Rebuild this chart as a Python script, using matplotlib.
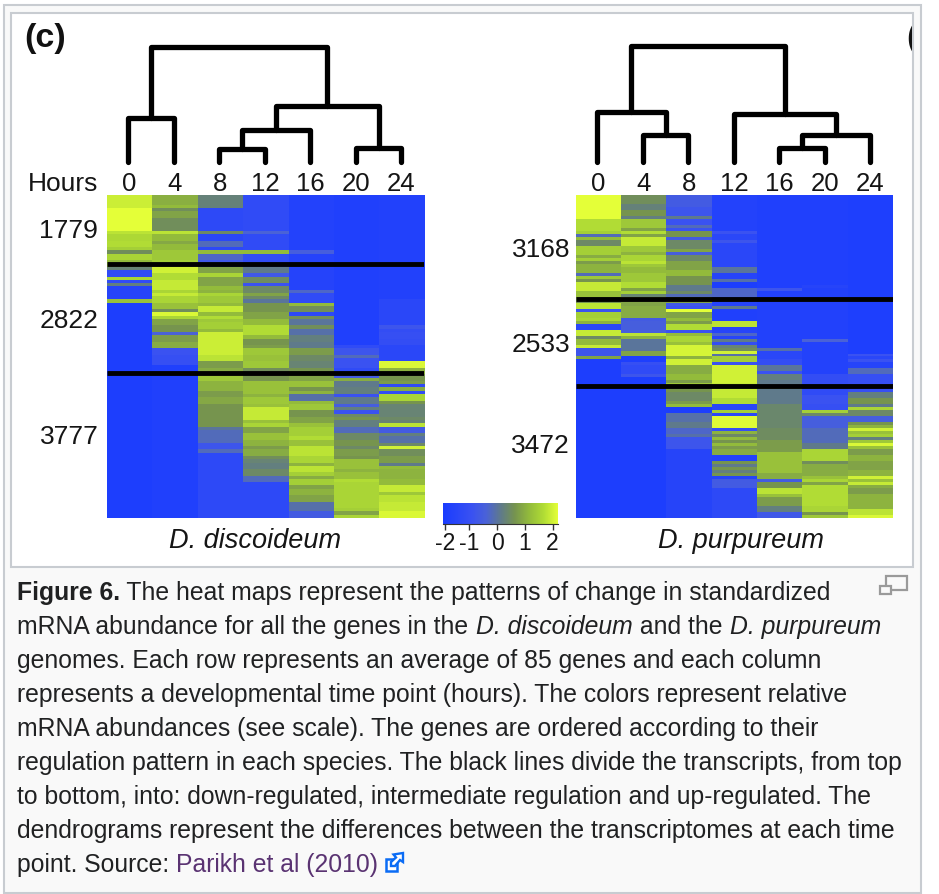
import numpy as np
import matplotlib
matplotlib.use("Agg")
import matplotlib.pyplot as plt
from matplotlib.colors import LinearSegmentedColormap
from matplotlib.patches import Rectangle, Polygon

plt.rcParams['font.family'] = ['Liberation Sans', 'DejaVu Sans']

W, H = 939, 894
hours_dd = ['0', '4', '8', '12', '16', '20', '24']
hours_dp = ['0', '4', '8', '12', '16', '20', '24']
counts_dd = ['1779', '2822', '3777']
counts_dp = ['3168', '2533', '3472']
count_rows_dd = [9.8, 37.4, 73.0]
count_rows_dp = [17.2, 48.7, 82.5]
divide_rows_dd = [21.1, 54.7]
divide_rows_dp = [34.8, 64.0]
scale_ticks = [-1.95, -1.05, 0, 1.03, 2.05]
scale_labels = ['-2', '-1', '0', '1', '2']

# Heat maps: each column as (last row of a run, value)
dd0 = [(4,1.75),(11,2.1),(12,1.6),(14,1.45),(16,1.5),(17,1.3),(18,0.4),(20,1.4),(22,1.0),(23,0.2),(25,-1.3),(26,1.4),(27,-1.3),(28,0.1),(32,-1.6),(33,1.1),(99,-1.9)]
dd1 = [(3,0.85),(4,1.0),(5,0.4),(7,0.7),(11,0.4),(12,1.6),(14,1.0),(15,0.75),(17,1.0),(20,1.2),(22,1.3),(24,1.8),(26,1.5),(29,1.7),(30,1.4),(31,1.7),(33,1.4),(35,1.1),(36,0.4),(37,1.9),(38,1.4),(40,0.7),(42,0.5),(43,-0.5),(45,0.6),(47,0.8),(49,-1.0),(52,-1.1),(99,-1.8)]
dd2 = [(4,0.15),(11,-1.4),(12,0.3),(14,-1.5),(16,-0.3),(17,-1.4),(18,1.0),(20,-0.4),(22,-0.8),(24,0.7),(25,1.4),(28,0.7),(29,1.0),(30,0.9),(31,1.4),(33,1.2),(34,1.0),(36,1.7),(37,1.0),(38,1.5),(39,1.2),(41,1.3),(42,1.0),(49,1.75),(51,1.6),(53,0.6),(54,0.8),(55,1.0),(57,1.2),(60,0.9),(62,0.6),(64,0.75),(71,0.5),(72,-0.1),(76,-0.3),(78,-0.9),(79,-0.3),(99,-1.4)]
dd3 = [(11,-1.3),(12,-0.5),(17,-1.3),(18,1.0),(20,-1.2),(22,-1.3),(24,0.0),(25,-0.8),(27,0.35),(28,-1.0),(30,0.3),(31,0.7),(32,0.3),(33,-0.1),(36,0.5),(38,0.7),(40,1.0),(43,1.5),(44,1.0),(46,0.5),(47,0.6),(49,1.2),(51,1.1),(53,1.2),(55,0.4),(57,0.5),(61,1.1),(62,0.9),(64,1.2),(65,1.1),(69,1.7),(70,1.1),(71,1.4),(73,0.7),(75,1.1),(77,0.9),(78,0.6),(80,0.8),(81,0.4),(82,0.2),(84,0.1),(86,0.3),(88,-0.3),(99,-1.4)]
dd4 = [(17,-1.7),(18,-0.6),(29,-1.65),(30,-0.4),(33,-1.3),(34,1.0),(36,0.4),(37,-1.4),(38,0.4),(40,-0.1),(41,0.4),(43,-0.2),(45,0.1),(47,0.0),(49,0.6),(51,0.3),(53,0.2),(55,0.5),(57,0.7),(59,1.1),(60,0.5),(61,0.9),(63,-0.2),(64,1.0),(66,1.2),(68,0.5),(70,0.7),(71,1.1),(74,1.3),(75,1.5),(77,1.1),(80,1.6),(82,1.4),(83,0.9),(85,1.6),(86,1.3),(87,0.8),(89,1.3),(90,0.7),(92,0.9),(94,0.7),(97,-0.2),(99,-0.7)]
dd5 = [(46,-1.8),(47,-1.3),(49,-0.9),(50,-0.3),(53,-1.0),(55,-1.3),(56,-0.7),(57,0.8),(59,0.0),(61,0.1),(62,-1.0),(64,0.0),(65,-0.6),(66,0.1),(67,-1.0),(68,0.3),(69,0.5),(71,0.1),(73,-0.3),(75,0.3),(77,0.5),(78,0.3),(80,0.6),(81,0.5),(84,1.1),(85,0.9),(87,1.1),(88,1.5),(96,1.4),(97,1.3),(98,0.7),(99,1.4)]
dd6 = [(32,-1.75),(40,-1.5),(41,-0.9),(42,-1.2),(44,-1.1),(46,-1.2),(51,-1.5),(53,1.9),(55,0.9),(57,0.5),(58,0.6),(59,-1.3),(60,0.8),(61,-1.2),(63,1.4),(64,0.5),(68,0.2),(69,0.3),(70,0.2),(71,1.6),(73,-0.7),(74,0.1),(76,-0.2),(77,0.3),(78,1.8),(80,0.4),(82,0.6),(83,0.0),(84,1.0),(87,0.9),(89,1.0),(91,1.7),(92,1.2),(94,1.6),(97,1.7),(99,1.9)]

dp0 = [(8,2.0),(12,1.5),(13,1.3),(14,-0.3),(15,1.0),(17,0.3),(20,1.3),(21,0.8),(22,1.3),(23,0.6),(26,0.9),(27,-0.3),(28,1.2),(29,0.5),(32,1.7),(34,1.1),(36,0.5),(38,1.6),(39,-1.0),(41,1.3),(42,1.4),(43,0.9),(45,-1.5),(47,1.7),(48,0.3),(50,1.0),(51,1.7),(54,-0.9),(55,0.7),(108,-1.9)]
dp1 = [(3,0.4),(5,0.15),(7,0.5),(8,0.1),(11,1.2),(12,0.7),(13,1.5),(14,0.7),(17,1.7),(19,1.2),(20,0.9),(22,1.4),(23,1.6),(24,1.2),(26,1.0),(29,1.2),(31,1.5),(32,0.7),(33,1.3),(34,0.2),(35,1.9),(37,0.7),(41,0.8),(42,-0.7),(46,-0.6),(47,1.6),(48,0.9),(52,-0.1),(54,0.7),(56,-1.85),(57,-1.1),(60,-1.3),(61,-0.9),(108,-1.9)]
dp2 = [(4,-0.7),(7,-0.9),(8,0.0),(10,-1.0),(11,-0.3),(12,-1.0),(14,0.5),(15,-0.7),(18,0.3),(19,0.7),(20,-0.6),(22,0.3),(25,0.7),(27,1.0),(30,0.5),(32,0.0),(33,0.3),(34,-0.3),(36,0.7),(37,-0.8),(38,-1.0),(39,2.0),(41,0.7),(42,1.0),(43,0.6),(45,1.5),(46,-1.0),(47,1.0),(49,1.4),(50,1.1),(54,1.85),(55,0.9),(57,1.8),(60,0.8),(62,1.0),(63,0.6),(64,1.2),(66,0.5),(69,0.3),(70,0.6),(71,1.0),(73,-1.9),(76,-0.2),(78,0.0),(80,-0.4),(81,-0.2),(85,-0.9),(108,-1.6)]
dp3 = [(12,-1.7),(13,-1.0),(15,-1.5),(16,-0.9),(24,-1.5),(26,-0.1),(28,-1.6),(29,-0.2),(31,-1.9),(34,-0.4),(37,-1.6),(38,0.0),(42,-1.8),(44,1.6),(46,-1.6),(47,-0.4),(48,-1.6),(49,0.0),(50,-1.2),(51,0.2),(52,0.4),(53,1.8),(54,-0.2),(56,1.3),(57,-1.0),(63,1.8),(64,1.7),(68,1.7),(70,1.5),(72,-1.5),(73,1.3),(74,-1.5),(78,1.95),(79,-1.1),(80,0.9),(81,0.3),(82,1.0),(83,0.5),(84,1.0),(85,0.6),(87,0.8),(89,-1.7),(90,0.5),(91,0.0),(92,0.5),(93,0.1),(94,0.5),(95,-1.6),(98,-0.7),(108,-1.4)]
dp4 = [(31,-1.8),(32,-0.9),(51,-1.75),(52,-0.2),(55,-1.5),(57,-1.2),(59,-0.1),(60,-1.0),(62,0.1),(64,0.0),(65,0.9),(70,0.0),(78,0.25),(82,0.35),(86,0.6),(93,1.1),(94,0.8),(95,0.8),(96,-0.7),(98,0.5),(100,1.6),(101,1.1),(104,0.6),(106,0.1),(108,-0.8)]
dp5 = [(30,-1.8),(31,-1.6),(48,-1.75),(49,-0.5),(60,-1.7),(64,-1.2),(67,-1.3),(70,-1.0),(72,-1.1),(73,1.3),(74,0.3),(78,-0.6),(83,-0.3),(85,0.0),(89,1.4),(90,0.4),(94,0.8),(95,1.1),(96,1.4),(97,0.7),(104,1.5),(106,1.4),(107,0.5),(108,1.2)]
dp6 = [(53,-1.85),(54,-1.0),(55,-1.5),(56,-1.0),(58,-1.6),(60,-0.3),(66,-1.1),(68,0.1),(70,0.5),(71,0.0),(72,1.4),(74,0.3),(76,-0.6),(77,0.5),(78,0.9),(79,1.8),(80,1.1),(81,1.3),(82,0.1),(83,1.2),(84,1.9),(85,1.1),(87,0.6),(89,0.9),(92,0.7),(94,0.9),(95,1.8),(96,1.1),(97,1.7),(98,0.8),(100,0.6),(105,0.9),(107,1.6),(108,1.9)]

# Dendrograms: (left child, right child, height); children < 0 are leaves (-1 - index)
tree_dd = [(-1,-2,44.0),(-3,-4,13.5),(1,-5,32.0),(-6,-7,14.0),(2,3,56.0),(0,4,115.5)]
tree_dp = [(-2,-3,27.0),(-1,0,50.0),(-5,-6,14.0),(2,-7,27.5),(-4,3,48.0),(1,4,116.0)]

cmap = LinearSegmentedColormap.from_list('scale', [
    (0.00, '#1a3cff'), (0.25, '#3a52f2'), (0.375, '#4a62d8'), (0.50, '#5f7a8c'),
    (0.625, '#76944f'), (0.75, '#93bb3c'), (0.875, '#b0dc35'), (1.00, '#e4ff38')])

def box(x0, y0, x1, y1):
    return [x0 / W, 1 - y1 / H, (x1 - x0) / W, (y1 - y0) / H]

def expand(col):
    ends, vals = zip(*col)
    return np.repeat(vals, np.diff((0,) + ends))

fig = plt.figure(figsize=(W / 100, H / 100), dpi=100, facecolor='white')

bg = fig.add_axes([0, 0, 1, 1], zorder=0)
bg.set_xlim(0, W); bg.set_ylim(H, 0); bg.axis('off')
bg.add_patch(Rectangle((4, 5), 917, 888, fc='#f9f9f9', ec='#c8ccd1', lw=1.5))
bg.add_patch(Rectangle((11, 13), 902, 554, fc='white', ec='#c8ccd1', lw=1.5))

def heatmap(columns, xbox, hours, counts, count_rows, divide_rows, pad):
    ax = fig.add_axes(box(xbox[0], 195, xbox[1], 517.7), zorder=2)
    data = np.column_stack([expand(c) for c in columns])
    ax.imshow(data, cmap=cmap, vmin=-2, vmax=2, aspect='auto', interpolation='nearest')
    ax.hlines(np.array(divide_rows) - 0.5, -0.5, 6.5, color='black', lw=3.5)
    ax.set_xlim(-0.5, 6.5)
    ax.xaxis.tick_top()
    ax.set_xticks(range(7), hours, fontsize=18.5, color='#151515')
    ax.set_yticks(count_rows, counts, fontsize=19, color='#151515')
    ax.tick_params(length=0, pad=pad)
    ax.tick_params(axis='x', pad=-1)
    for s in ax.spines.values():
        s.set_visible(False)
    return ax

ax_dd = heatmap([dd0, dd1, dd2, dd3, dd4, dd5, dd6], (106.7, 424), hours_dd, counts_dd, count_rows_dd, divide_rows_dd, 6)
ax_dp = heatmap([dp0, dp1, dp2, dp3, dp4, dp5, dp6], (575.7, 892.7), hours_dp, counts_dp, count_rows_dp, divide_rows_dp, 4)

def dendrogram(tree, xbox):
    ax = fig.add_axes(box(xbox[0], 30, xbox[1], 162), zorder=1)
    ax.set_xlim(-0.5, 6.5); ax.set_ylim(0, 132); ax.axis('off')
    nodes = []
    def pos(c):
        return (-1 - c, 0.0) if c < 0 else nodes[c]
    for a, b, h in tree:
        xa, ya = pos(a); xb, yb = pos(b)
        ax.plot([xa, xa, xb, xb], [ya, h, h, yb], color='black', lw=3.8,
                solid_capstyle='round', solid_joinstyle='round', clip_on=False)
        nodes.append(((xa + xb) / 2, h))

dendrogram(tree_dd, (105.5, 424))
dendrogram(tree_dp, (574.7, 892.7))

# Colour scale
ax_s = fig.add_axes(box(443.3, 503.5, 558.3, 524), zorder=2)
grad = np.linspace(-2, 2.2, 256)[None, :]
ax_s.imshow(grad, cmap=cmap, vmin=-2, vmax=2.2, aspect='auto', extent=(-2.0, 2.26, 0, 1))
ax_s.set_yticks([])
ax_s.set_xticks(scale_ticks, scale_labels, fontsize=16.5, color='#151515')
ax_s.tick_params(axis='x', length=4, width=1, pad=2, color='#333333')
for k, s in ax_s.spines.items():
    s.set_visible(k == 'bottom')
    s.set_color('#333333')

# Figure texts
top = fig.add_axes([0, 0, 1, 1], zorder=3)
top.set_xlim(0, W); top.set_ylim(H, 0); top.axis('off'); top.patch.set_alpha(0)
top.text(24, 38.5, '(c)', fontsize=24.5, fontweight='bold', va='center', ha='left', color='#111111')
paren = top.text(906.5, 38.5, '(', fontsize=24.5, fontweight='bold', va='center', ha='left', color='#111111')
paren.set_clip_path(Rectangle((900, 13), 12, 60, transform=top.transData))
paren.set_clip_on(True)
top.text(98, 184, 'Hours', fontsize=19, va='center', ha='right', color='#151515')
top.text(255.5, 541.5, 'D. discoideum', fontsize=19.5, style='italic', va='center', ha='center', color='#151515')
top.text(740.5, 541.5, 'D. purpureum', fontsize=19.5, style='italic', va='center', ha='center', color='#151515')

caption = [
    [('Figure 6.', 'b'), (' The heat maps represent the patterns of change in standardized', 'n')],
    [('mRNA abundance for all the genes in the ', 'n'), ('D. discoideum', 'i'), (' and the ', 'n'), ('D. purpureum', 'i')],
    [('genomes. Each row represents an average of 85 genes and each column', 'n')],
    [('represents a developmental time point (hours). The colors represent relative', 'n')],
    [('mRNA abundances (see scale). The genes are ordered according to their', 'n')],
    [('regulation pattern in each species. The black lines divide the transcripts, from top', 'n')],
    [('to bottom, into: down-regulated, intermediate regulation and up-regulated. The', 'n')],
    [('dendrograms represent the differences between the transcriptomes at each time', 'n')],
    [('point. Source: ', 'n'), ('Parikh et al (2010)', 'l')],
]
STY = {'n': {}, 'b': {'fontweight': 'bold'}, 'i': {'style': 'italic'}, 'l': {'color': '#5a3372'}}
renderer = fig.canvas.get_renderer()
FS = 17.85
for i, runs in enumerate(caption):
    x = 17.0
    y = 600 + i * 34.0
    for s, kind in runs:
        kw = dict(color='#202122'); kw.update(STY[kind])
        t = top.text(x, y, s, fontsize=FS, va='baseline', ha='left', **kw)
        probe = top.text(0, 0, s.replace(' ', '\u00a0'), fontsize=FS, **{k: v for k, v in kw.items() if k != 'color'})
        x += probe.get_window_extent(renderer).width
        probe.remove()

# External link icon
blue = '#0b6cf5'
top.add_patch(Rectangle((386, 859), 11, 12, fc='white', ec=blue, lw=1.8))
top.add_patch(Polygon([(391, 866), (391, 862), (396, 857.5), (393.5, 854.5), (403, 853), (403, 862), (400, 860), (395, 866)],
                      fc='white', ec=blue, lw=1.7, joinstyle='miter'))
# Enlarge icon
grey = '#9a9a9a'
top.add_patch(Rectangle((885.5, 575.5), 21, 14.5, fc='none', ec=grey, lw=1.6))
top.add_patch(Rectangle((879.5, 586), 11, 8, fc='#f9f9f9', ec=grey, lw=1.6))

fig.savefig('out.png', dpi=100)
